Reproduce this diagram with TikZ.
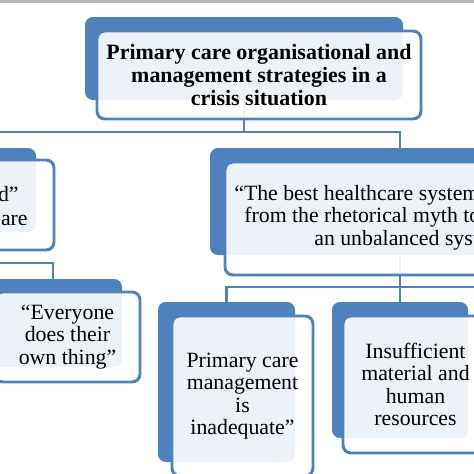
\documentclass[tikz,border=0pt]{standalone}
\usepackage{fontspec}
\setmainfont{Liberation Serif}
\usetikzlibrary{backgrounds}
\definecolor{smartblue}{RGB}{79,129,189}

\begin{document}
\begin{tikzpicture}[x=0.02cm,y=-0.02cm,
  wh/.style 2 args={minimum width=#1*0.02cm,minimum height=#2*0.02cm},
  back/.style={fill=smartblue,rounded corners=4.5pt,inner sep=0pt},
  front/.style={draw=smartblue,line width=1.7pt,fill=white,fill opacity=0.9,text opacity=1,rounded corners=4.5pt,inner sep=0pt,align=center,font=\fontsize{12.4}{12.8}\selectfont},
  txt/.style={inner sep=0pt,font=\fontsize{12.4}{12.8}\selectfont},
  conn/.style={draw=smartblue,line width=1.4pt}]
\useasboundingbox (0,0) rectangle (474,474);
\clip (0,0) rectangle (474,474);
\fill[gray!55] (0,0) rectangle (474,2.5);
% back plates
\node[back,wh={318}{83}] (topback) at (244,58.5) {};
\node[back,wh={236}{84}] (leftback) at (-82,190) {};
\node[back,wh={380}{107}] (rightback) at (400,201.5) {};
\node[back,wh={138}{88}] (evback) at (53,323) {};
\node[back,wh={137}{160}] (pcback) at (226.5,382) {};
\node[back,wh={136}{136}] (insback) at (400,370) {};
% front boxes
\node[front,wh={324}{88},font=\bfseries\fontsize{12.5}{13}\selectfont] (topfront) at (259,75) {Primary care organisational and\\management strategies in a\\crisis situation};
\node[front,wh={239}{90}] (leftfront) at (-65.5,205) {};
\node[front,wh={380}{113}] (rightfront) at (415,218.5) {};
\node[front,wh={145}{90}] (evfront) at (67.5,337) {“Everyone\\does their\\own thing”};
\node[front,wh={141}{160}] (pcfront) at (242.5,396) {Primary care\\management\\is\\inadequate”};
\node[front,wh={145}{137}] (insfront) at (415.5,384.5) {Insufficient\\material and\\human\\resources};
\node[txt,anchor=east,align=right,font=\fontsize{12.4}{13.6}\selectfont] (lefttext) at (28,206) {d”\hspace*{0.18cm}\\are};
\node[txt,anchor=west,align=left] (besttext) at (234,217.5) {“The best healthcare system\\\hspace*{0.2cm}from the rhetorical myth to\\\hspace*{1.6cm}an unbalanced system};
% connectors
\coordinate (bus1) at (0,132);
\coordinate (bus2) at (0,263);
\coordinate (bus3) at (480,287);
\begin{pgfonlayer}{background}
\draw[conn] (topback.center) |- (bus1) -| (rightback.center);
\draw[conn] (leftback.center) |- (bus2) -| (evback.center);
\draw[conn] (rightback.center) |- (bus3);
\draw[conn] (bus3) -| (pcback.center);
\draw[conn] (insback.center) -- (insback.center |- bus3);
\end{pgfonlayer}
\end{tikzpicture}
\end{document}
